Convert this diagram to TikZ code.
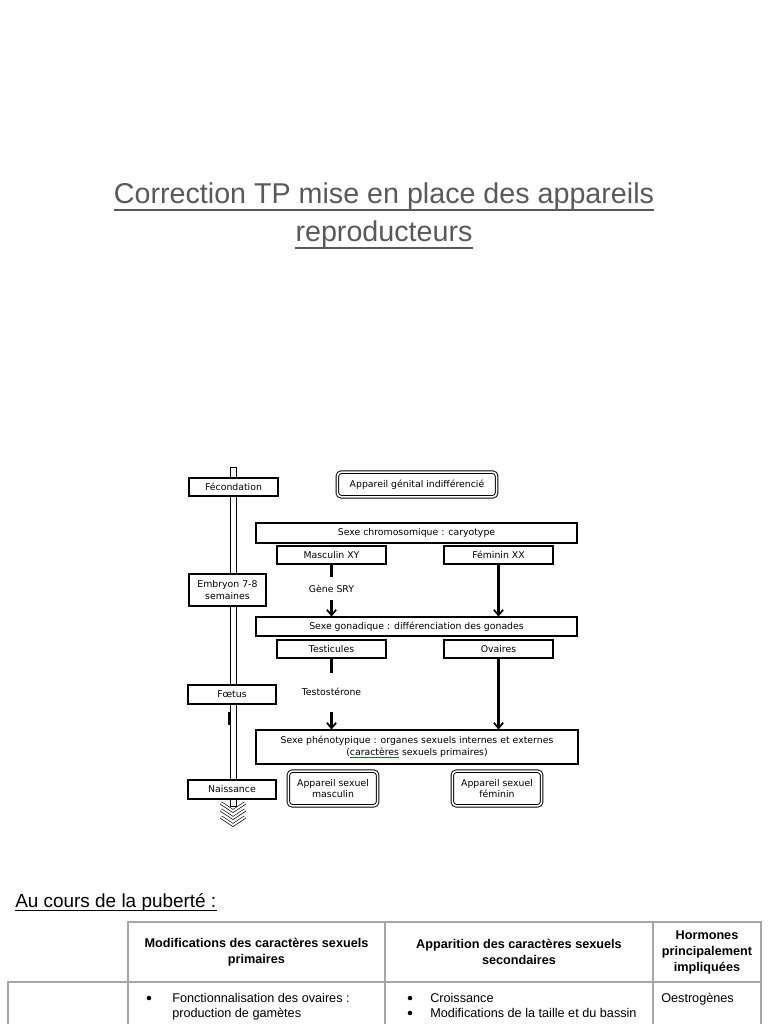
\documentclass[tikz,border=0pt]{standalone}
\usepackage{fontspec}
\setmainfont{Liberation Sans}
\newfontfamily\handfont{DejaVu Sans}
\usetikzlibrary{arrows.meta}
\definecolor{titleGray}{HTML}{595959}
\definecolor{gridGray}{HTML}{A6A6A6}

\begin{document}
\begin{tikzpicture}
[x=0.75pt,y=-0.75pt,
  boxDecorate/.style={draw,line width=0.85pt,fill=white,inner sep=0pt,align=center,
    font=\handfont\fontsize{7}{8.8}\selectfont},
  roundDecorate/.style={boxDecorate,double,double distance=1.2pt,line width=0.7pt,rounded corners=3pt},
  labelDecorate/.style={inner sep=0pt,font=\handfont\fontsize{7}{8.8}\selectfont},
  stemDecorate/.style={-,line width=1.6pt},
  arrowDecorate/.style={-{Straight Barb[length=4pt,width=7pt,line width=1.3pt]},line width=1.6pt},
  headDecorate/.style={inner sep=0pt,align=center,font=\bfseries\fontsize{9.5}{12}\selectfont},
  cellDecorate/.style={inner sep=0pt,anchor=base west,font=\fontsize{9.5}{11.5}\selectfont},
  bulletDecorate/.style={circle,fill=black,inner sep=0pt,minimum size=3.4pt}]
\useasboundingbox (0,0) rectangle (768,1024);
%% title
\node (title) at (384,203) [anchor=base,inner sep=0pt,text=titleGray,font=\fontsize{21.5}{28}\selectfont]
  {Correction TP mise en place des appareils};
\node (titleb) at (384,241) [anchor=base,inner sep=0pt,text=titleGray,font=\fontsize{21.5}{28}\selectfont]
  {reproducteurs};
\foreach \t in {title,titleb}
{
  \draw[titleGray,line width=1.1pt] ([yshift=-5.4pt]\t.base west) -- ([yshift=-5.4pt]\t.base east);
}
%% time line
\draw[line width=0.55pt,fill=white] (230,467) rectangle (236,806);
\foreach \k in {0,7,14}
{
  \draw[line width=0.5pt,double,double distance=1.4pt] (221,803+\k) -- (233,811+\k) -- (245,803+\k);
}
\draw[line width=1pt] (229,712) -- (229,725);
%% boxes of the time line
\foreach \nodename/\x/\y/\w/\h/\txt in {
  fecond/233.5/487/66.75/13.5/Fécondation,
  embryon/227.5/590/57.75/24/Embryon 7-8\\semaines,
  foetus/232/694.5/66/14.25/Fœtus,
  naiss/232/789.5/66/14.25/Naissance}
{
  \node (\nodename) at (\x,\y) [boxDecorate,minimum width=\w pt,minimum height=\h pt] {\txt};
}
%% boxes of the differentiation
\foreach \nodename/\x/\y/\w/\h/\txt in {
  chrom/416.5/533/240.75/15/Sexe chromosomique : caryotype,
  masc/331.5/555/81.75/13.5/Masculin XY,
  fem/498.5/555/81.75/13.5/Féminin XX,
  gonad/416.5/626.5/240.75/14.25/Sexe gonadique : différenciation des gonades,
  test/331.5/649/81.75/13.5/Testicules,
  ovai/498.5/649/81.75/13.5/Ovaires}
{
  \node (\nodename) at (\x,\y) [boxDecorate,minimum width=\w pt,minimum height=\h pt] {\txt};
}
\node (pheno) at (417,747) [boxDecorate,minimum width=241.5pt,minimum height=25.5pt]
  {Sexe phénotypique : organes sexuels internes et externes\\
   ({\color{green!55!black}\underline{\color{black}caractères}} sexuels primaires)};
%% double framed boxes
\foreach \nodename/\x/\y/\w/\h/\txt in {
  indiff/417/484.5/119.5/18.5/Appareil génital indifférencié,
  asmasc/333/788.5/67/26/Appareil sexuel\\masculin,
  asfem/497/788.5/67/26/Appareil sexuel\\féminin}
{
  \node (\nodename) at (\x,\y) [roundDecorate,minimum width=\w pt,minimum height=\h pt] {\txt};
}
%% links
\coordinate (sryTop) at (331.5,577);
\node (sry) at (331.5,589) [labelDecorate] {Gène SRY};
\coordinate (sryBot) at (331.5,600);
\draw[stemDecorate] (masc) -- (sryTop);
\draw[arrowDecorate] (sryBot) -- (sryBot |- gonad.north);
\draw[arrowDecorate] (fem) -- (fem |- gonad.north);
\coordinate (testoTop) at (331.5,673);
\node (testo) at (331.5,692) [labelDecorate] {Testostérone};
\coordinate (testoBot) at (331.5,712);
\draw[stemDecorate] (test) -- (testoTop);
\draw[arrowDecorate] (testoBot) -- (testoBot |- pheno.north);
\draw[arrowDecorate] (ovai) -- (ovai |- pheno.north);
%% puberty
\node (puberte) at (15,907) [anchor=base west,inner sep=0pt,font=\fontsize{14.2}{17}\selectfont]
  {Au cours de la puberté :};
\draw[line width=0.8pt] ([yshift=-2.6pt]puberte.base west) -- ([yshift=-2.6pt]puberte.base east);
%% table
\draw[gridGray,line width=0.8pt] (128,1024) -- (128,922) -- (761,922) -- (761,1024);
\draw[gridGray,line width=0.8pt] (8,1024) -- (8,982) -- (761,982);
\foreach \x in {385,653}
{
  \draw[gridGray,line width=0.8pt] (\x,922) -- (\x,1024);
}
\node (hprim) at (256.5,952) [headDecorate] {Modifications des caractères sexuels\\primaires};
\node (hsec) at (519,952) [headDecorate] {Apparition des caractères sexuels\\secondaires};
\node (hhorm) at (707,952) [headDecorate] {Hormones\\principalement\\impliquées};
\foreach \nodename/\x/\y in {bulA/149/998, bulB/410/998, bulC/410/1013}
{
  \node (\nodename) at (\x,\y) [bulletDecorate] {};
}
\foreach \nodename/\x/\y/\txt in {
  cellA/172/1002/Fonctionnalisation des ovaires :,
  cellB/172/1017/production de gamètes,
  cellC/430/1002/Croissance,
  cellD/430/1017/Modifications de la taille et du bassin,
  cellE/661/1002/Oestrogènes}
{
  \node (\nodename) at (\x,\y) [cellDecorate] {\txt};
}
\end{tikzpicture}
\end{document}
